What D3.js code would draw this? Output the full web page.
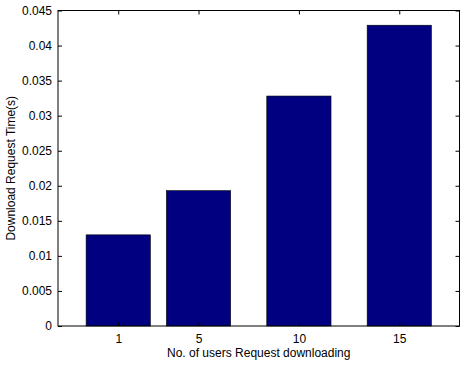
<!DOCTYPE html>
<html>
<head>
<meta charset="utf-8">
<script src="https://cdn.jsdelivr.net/npm/d3@7"></script>
<style>
  body { margin: 0; background: #fff; }
  text { font-family: "Liberation Sans", Arial, sans-serif; }
</style>
</head>
<body>
<div id="chart"></div>
<script>
// values
var users = [1, 5, 10, 15];
var times = [0.013, 0.0193, 0.0328, 0.0429];
var yTicks = [0, 0.005, 0.01, 0.015, 0.02, 0.025, 0.03, 0.035, 0.04, 0.045];

var W = 474, H = 367;
var m = { left: 58, top: 10.5, right: 14.5, bottom: 41 };

var svg = d3.select("#chart").append("svg").attr("width", W).attr("height", H);

var x = d3.scaleLinear().domain([-2, 18]).range([m.left, W - m.right]);
var y = d3.scaleLinear().domain([0, 0.045]).range([H - m.bottom, m.top]);

// bar width 0.8 of the smallest gap, like matlab
var bw = x(3.2) - x(0);

svg.selectAll(".bar")
    .data(users)
    .enter()
    .append("rect")
    .attr("x", function (d) { return x(d) - bw / 2; })
    .attr("y", function (d, i) { return y(times[i]); })
    .attr("width", bw)
    .attr("height", function (d, i) { return y(0) - y(times[i]); })
    .attr("fill", "#000080")
    .attr("stroke", "#000")
    .attr("stroke-width", 0.6);

function style(g) {
    g.selectAll("path").remove();
    g.selectAll("line").attr("stroke", "#000");
    g.selectAll("text").attr("font-size", 12).attr("fill", "#000");
}

svg.append("g")
    .attr("transform", "translate(0," + y(0) + ")")
    .call(d3.axisBottom(x).tickValues(users).tickSizeInner(-4).tickSizeOuter(0).tickPadding(8))
    .call(style);
svg.append("g")
    .attr("transform", "translate(0," + y(0.045) + ")")
    .call(d3.axisTop(x).tickValues(users).tickSizeInner(-4).tickSizeOuter(0).tickFormat(""))
    .call(style);
svg.append("g")
    .attr("transform", "translate(" + x(-2) + ",0)")
    .call(d3.axisLeft(y).tickValues(yTicks).tickSizeInner(-4).tickSizeOuter(0).tickPadding(6)
        .tickFormat(function (d) { return d === 0 ? "0" : d3.format("")(+d.toFixed(3)); }))
    .call(style);
svg.append("g")
    .attr("transform", "translate(" + x(18) + ",0)")
    .call(d3.axisRight(y).tickValues(yTicks).tickSizeInner(-4).tickSizeOuter(0).tickFormat(""))
    .call(style);

// box
svg.append("rect")
    .attr("x", x(-2)).attr("y", y(0.045))
    .attr("width", x(18) - x(-2)).attr("height", y(0) - y(0.045))
    .attr("fill", "none").attr("stroke", "#000").attr("stroke-width", 1);

svg.append("text")
    .attr("x", (x(-2) + x(18)) / 2)
    .attr("y", 357)
    .attr("text-anchor", "middle")
    .attr("font-size", 12)
    .text("No. of users Request downloading");

svg.append("text")
    .attr("transform", "translate(15," + (y(0.0225)) + ") rotate(-90)")
    .attr("text-anchor", "middle")
    .attr("font-size", 12)
    .text("Download Request Time(s)");
</script>
</body>
</html>
